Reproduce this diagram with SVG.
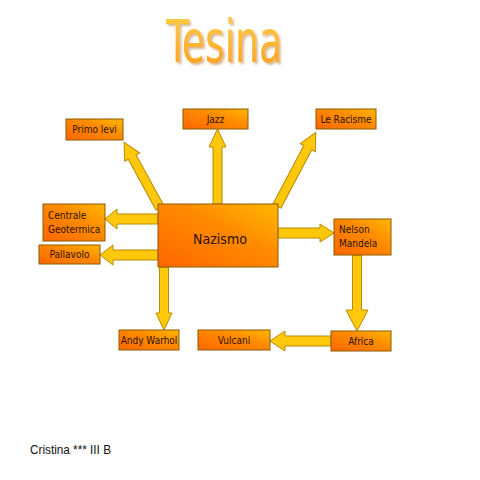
<svg xmlns="http://www.w3.org/2000/svg" width="480" height="480" viewBox="0 0 480 480">
<defs>
<linearGradient id="box" x1="0" y1="1" x2="1" y2="0">
<stop offset="0" stop-color="#FF6600"/>
<stop offset="0.6" stop-color="#FF8C00"/>
<stop offset="1" stop-color="#FFB800"/>
</linearGradient>
<linearGradient id="title" x1="0" y1="0" x2="0" y2="1">
<stop offset="0" stop-color="#FFD24A"/>
<stop offset="1" stop-color="#FF9A1A"/>
</linearGradient>
<filter id="shadow" x="-10%" y="-10%" width="130%" height="130%">
<feDropShadow dx="2" dy="2" stdDeviation="1" flood-color="#B06A20" flood-opacity="0.5"/>
</filter>
<style>
.n rect{fill:url(#box);stroke:#8A5A00;stroke-width:1}
.n text{font-family:"DejaVu Sans Condensed","DejaVu Sans",sans-serif;font-size:10px;fill:#2A1400}
.a polygon{fill:#FFC80A;stroke:#B88A00;stroke-width:1;stroke-linejoin:miter}
</style>
</defs>
<rect width="480" height="480" fill="#ffffff"/>
<text x="166" y="62" font-family="'DejaVu Sans Condensed','DejaVu Sans',sans-serif" font-size="58" textLength="116" lengthAdjust="spacingAndGlyphs" fill="url(#title)" filter="url(#shadow)">Tesina</text>
<g id="connectors" class="a">
<!-- Nazismo -> Primo levi -->
<g transform="translate(160,208) rotate(-118.6)"><polygon points="0,-4.5 58,-4.5 58,-8.5 75,0 58,8.5 58,4.5 0,4.5"/></g>
<!-- Nazismo -> Jazz -->
<g transform="translate(217.5,204) rotate(-90)"><polygon points="0,-4.5 57,-4.5 57,-8.5 75,0 57,8.5 57,4.5 0,4.5"/></g>
<!-- Nazismo -> Le Racisme -->
<g transform="translate(277,206) rotate(-62.2)"><polygon points="0,-4.5 66,-4.5 66,-8.5 83,0 66,8.5 66,4.5 0,4.5"/></g>
<!-- Nazismo -> Centrale -->
<g transform="translate(158,219) rotate(180)"><polygon points="0,-5 41,-5 41,-10 53,0 41,10 41,5 0,5"/></g>
<!-- Nazismo -> Pallavolo -->
<g transform="translate(158,255) rotate(180)"><polygon points="0,-5 45,-5 45,-10 58,0 45,10 45,5 0,5"/></g>
<!-- Nazismo -> Nelson -->
<g transform="translate(278,233)"><polygon points="0,-5 42,-5 42,-9 56,0 42,9 42,5 0,5"/></g>
<!-- Nazismo -> Andy Warhol -->
<g transform="translate(164,267) rotate(90)"><polygon points="0,-4.5 46,-4.5 46,-8 63,0 46,8 46,4.5 0,4.5"/></g>
<!-- Nelson -> Africa -->
<g transform="translate(357,255) rotate(90)"><polygon points="0,-4.5 55,-4.5 55,-11 76,0 55,11 55,4.5 0,4.5"/></g>
<!-- Africa -> Vulcani -->
<g transform="translate(331,341) rotate(180)"><polygon points="0,-5 46,-5 46,-10 61,0 46,10 46,5 0,5"/></g>
</g>
<g id="nazismo" class="n"><rect x="158" y="204" width="120" height="63"/><text x="220" y="244" text-anchor="middle" style="font-size:14px">Nazismo</text></g>
<g id="primo" class="n"><rect x="66" y="119" width="57" height="21"/><text x="94.5" y="133" text-anchor="middle">Primo levi</text></g>
<g id="jazz" class="n"><rect x="183" y="109" width="65" height="20"/><text x="215.5" y="123" text-anchor="middle">Jazz</text></g>
<g id="racisme" class="n"><rect x="316" y="109" width="60" height="20"/><text x="346" y="123" text-anchor="middle">Le Racisme</text></g>
<g id="centrale" class="n"><rect x="43" y="204" width="62" height="37"/><text x="48" y="219">Centrale</text><text x="48" y="233">Geotermica</text></g>
<g id="pallavolo" class="n"><rect x="39" y="245" width="61" height="19"/><text x="69.5" y="258" text-anchor="middle">Pallavolo</text></g>
<g id="nelson" class="n"><rect x="334" y="219" width="57" height="36"/><text x="339" y="233">Nelson</text><text x="339" y="247">Mandela</text></g>
<g id="africa" class="n"><rect x="331" y="331" width="60" height="20"/><text x="361" y="345" text-anchor="middle">Africa</text></g>
<g id="andy" class="n"><rect x="119" y="330" width="60" height="20"/><text x="149" y="344" text-anchor="middle">Andy Warhol</text></g>
<g id="vulcani" class="n"><rect x="198" y="330" width="72" height="20"/><text x="234" y="344" text-anchor="middle">Vulcani</text></g>
<text x="30" y="454" font-family="'Liberation Sans',Arial,sans-serif" font-size="13" textLength="81" lengthAdjust="spacingAndGlyphs" fill="#111">Cristina *** III B</text>
</svg>
